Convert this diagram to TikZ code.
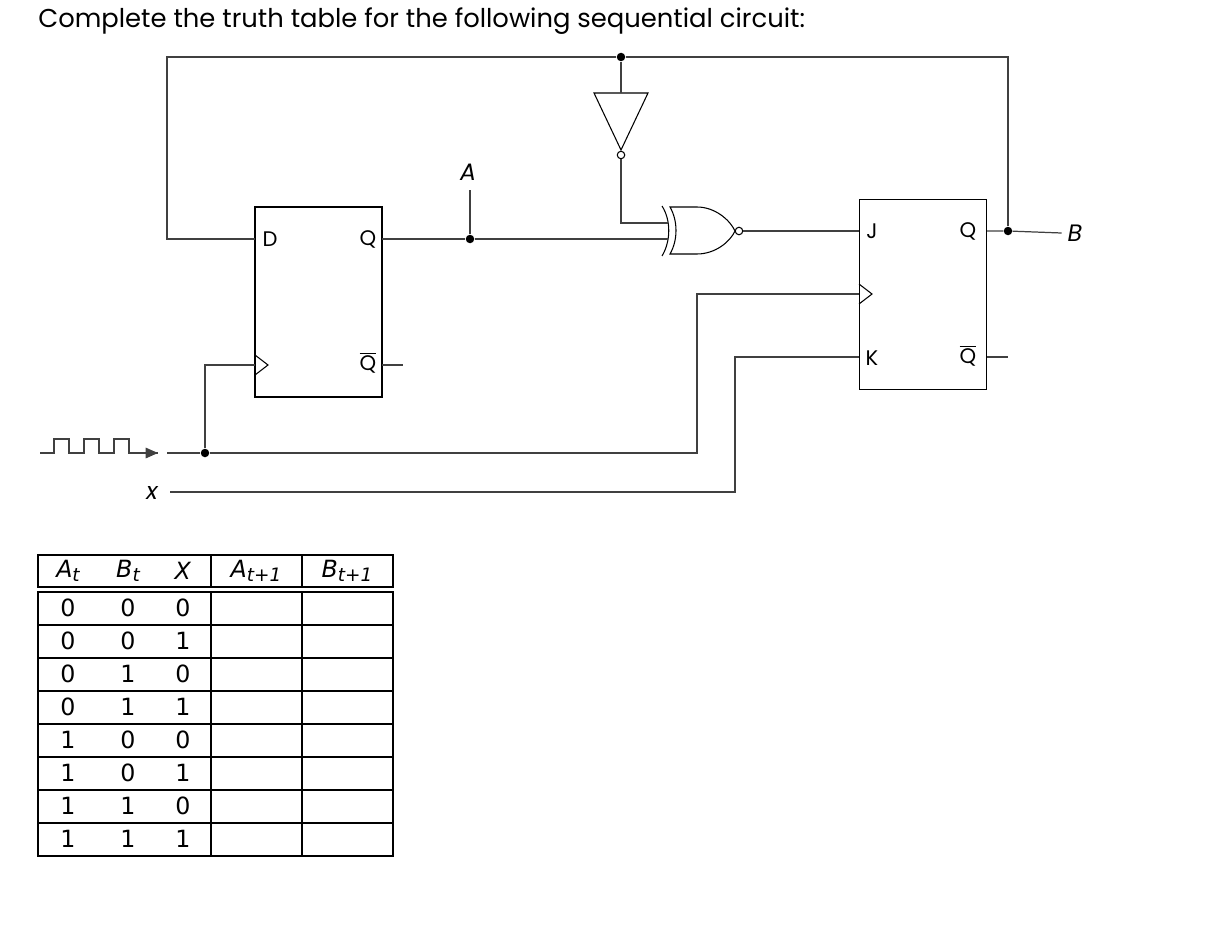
\documentclass[tikz,border=0pt]{standalone}
\usepackage{fontspec}
\setmainfont{Poppins}
\newfontfamily\tabfont{DejaVu Sans}
\usetikzlibrary{arrows.meta}
\newcommand{\sub}[2]{\textit{#1}\raisebox{-0.35ex}{\fontsize{10.5}{10.5}\selectfont\itshape #2}}
\begin{document}
\begin{tikzpicture}[x=0.02cm,y=-0.02cm,
  wire/.style={line width=0.7pt,black!75},
  box/.style={draw,line width=0.8pt,minimum width=127*0.02cm,minimum height=190*0.02cm,inner sep=0},
  dot/.style={circle,fill,inner sep=0,minimum size=0.17cm},
  bub/.style={circle,draw,fill=white,inner sep=0,minimum size=0.15cm,line width=0.6pt},
  pin/.style={font=\fontsize{12}{12}\selectfont},
  lbl/.style={font=\fontsize{13.5}{13.5}\selectfont\itshape},
  cell/.style={font=\tabfont\fontsize{13.5}{13.5}\selectfont}]
\useasboundingbox (0,0) rectangle (1213,936);
\node[anchor=base west,font=\fontsize{14.7}{14.7}\selectfont,inner sep=0] (title) at (38,28) {Complete the truth table for the following sequential circuit:};

% flip-flops
\node[box] (dff) at (318.5,302) {};
\node[box] (jk) at (923,294.5) {};
\node[pin] at (270,239) {D};
\node[pin] at (368,239) {Q};
\node[pin] at (368,363) {$\overline{\mbox{Q}}$};
\node[pin] at (872,231) {J};
\node[pin] at (968,231) {Q};
\node[pin] at (872,358) {K};
\node[pin] at (968,356) {$\overline{\mbox{Q}}$};
\draw[line width=0.6pt] (255,355) -- (268,365) -- (255,375);
\draw[line width=0.6pt] (859,284) -- (872,294) -- (859,304);

% coordinates
\coordinate (dD) at (255,239);
\coordinate (dQ) at (382,239);
\coordinate (dQb) at (382,365);
\coordinate (dQbe) at (403,365);
\coordinate (dC) at (255,365);
\coordinate (jJ) at (859,231);
\coordinate (jC) at (859,294);
\coordinate (jK) at (859,357);
\coordinate (jQ) at (987,231);
\coordinate (jQb) at (987,357);
\coordinate (jQbe) at (1008,357);
\node[dot] (bdot) at (1008,231) {};
\node[dot] (topdot) at (621,57) {};
\node[dot] (adot) at (470,239) {};
\node[dot] (cdot) at (205,453) {};
\coordinate (atop) at (470,190);
\node[lbl] (A) at (468,172) {A};
\node[lbl] (B) at (1075,233) {B};
\node[lbl] (x) at (152,493) {x};
\coordinate (clkin) at (167,453);
\coordinate (xin) at (170,492);

% inverter
\coordinate (invin) at (621,93);
\draw[line width=0.6pt] (594,93) -- (648,93) -- (621,150) -- cycle;
\node[bub] (invb) at (621,155) {};

% XNOR
\draw[line width=0.6pt,fill=white] (670,207) -- (697,207) .. controls (715,207) and (730,220) .. (735,231)
  .. controls (730,242) and (715,254) .. (697,254) -- (670,254) .. controls (678,240) and (678,221) .. (670,207) -- cycle;
\draw[line width=0.6pt] (662,206) .. controls (671,220) and (671,241) .. (662,256);
\node[bub] (xb) at (739,231) {};
\coordinate (xin1) at (668,223);
\coordinate (xin2) at (668,239);

% wires
\draw[wire] (bdot) |- (topdot) -| (167,239) -- (dD);
\draw[wire] (topdot) -- (invin);
\draw[wire] (invb) |- (xin1);
\draw[wire] (dQ) -- (adot) -- (xin2);
\draw[wire] (adot) -- (atop);
\draw[wire] (xb) -- (jJ);
\draw[wire] (jQ) -- (bdot) -- (B.west);
\draw[wire] (dQb) -- (dQbe);
\draw[wire] (jQb) -- (jQbe);
\draw[wire] (clkin) -- (cdot) -- (697,453) |- (jC);
\draw[wire] (cdot) |- (dC);
\draw[wire] (xin) -- (735,492) |- (jK);

% clock symbol
\coordinate (cs) at (40,453);
\coordinate (ce) at (158,453);
\draw[wire] (cs) -- (54,453) -- (54,439) -- (69,439) -- (69,453) -- (84,453) -- (84,439) -- (99,439) -- (99,453)
  -- (114,453) -- (114,439) -- (129,439) -- (129,453) -- (ce);
\draw[-{Triangle[length=7pt,width=6pt]},wire] (140,453) -- (ce);

% table
\draw[line width=0.6pt] (38,555) rectangle (393,587);
\draw[line width=0.6pt] (211,555) -- (211,587) (302,555) -- (302,587);
\node[cell] at (68,571) {\sub{A}{t}};
\node[cell] at (128,571) {\sub{B}{t}};
\node[cell] at (183,571) {\textit{X}};
\node[cell] at (256,571) {\sub{A}{t+1}};
\node[cell] at (347,571) {\sub{B}{t+1}};
\foreach \r/\a/\b/\c in {0/0/0/0,1/0/0/1,2/0/1/0,3/0/1/1,4/1/0/0,5/1/0/1,6/1/1/0,7/1/1/1}{
  \draw[line width=0.6pt] (38,592+33*\r) rectangle (393,592+33*\r+33);
  \draw[line width=0.6pt] (211,592+33*\r) -- (211,625+33*\r) (302,592+33*\r) -- (302,625+33*\r);
  \node[cell] at (68,608+33*\r) {\a};
  \node[cell] at (128,608+33*\r) {\b};
  \node[cell] at (183,608+33*\r) {\c};
}
\end{tikzpicture}
\end{document}
